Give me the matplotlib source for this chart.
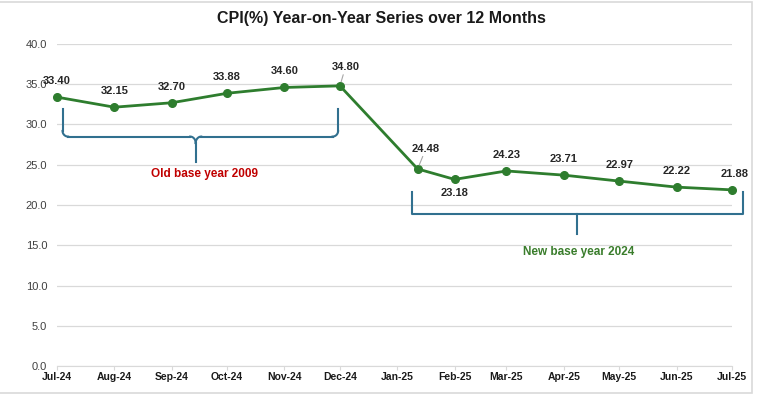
"""
CPI year-on-year line chart with base-year brackets
"""

import numpy as np
import pandas as pd
import matplotlib.pyplot as plt
import matplotlib.dates as mdates
from matplotlib.patches import Rectangle

plt.rcParams.update({
    'font.family': ['Liberation Sans', 'DejaVu Sans'],
    'font.size': 8,
})

# data
dates = ['2024-07-01', '2024-08-01', '2024-09-01', '2024-10-01', '2024-11-01', '2024-12-01',
         '2025-01-12', '2025-02-01', '2025-03-01', '2025-04-01', '2025-05-01', '2025-06-01',
         '2025-07-01']
cpi = [33.40, 32.15, 32.70, 33.88, 34.60, 34.80,
       24.48, 23.18, 24.23, 23.71, 22.97, 22.22, 21.88]
tick_months = pd.date_range('2024-07-01', '2025-07-01', freq='MS')

# label offsets in points (dx, dy), leader line flag
label_offsets = [(0, 8), (0, 8), (0, 8), (0, 8), (0, 8), (4, 10),
                 (6, 11), (0, -6.5), (0, 8), (0, 8), (0, 8), (0, 8), (2, 8)]
leader = [False] * 13
leader[5] = True
leader[6] = True

line_color = '#2E7D2E'
brace_color = '#31708F'

x = pd.to_datetime(dates)

fig = plt.figure(figsize=(7.68, 4.04), dpi=100)
ax = fig.add_axes([57 / 768, 38 / 404, 675 / 768, 322 / 404])

# outer chart border
fig.patches.append(Rectangle((-0.01, 11 / 404), 752 / 768 + 0.01, 391 / 404,
                             transform=fig.transFigure, fill=False,
                             edgecolor='#D9D9D9', linewidth=1.2))

ax.plot(x, cpi, color=line_color, linewidth=2, marker='o', markersize=5.5, zorder=3, clip_on=False)

for xi, yi, (dx, dy), ld in zip(x, cpi, label_offsets, leader):
    va = 'bottom' if dy > 0 else 'top'
    arrow = dict(arrowstyle='-', color='#A6A6A6', lw=0.8, shrinkA=0, shrinkB=3) if ld else None
    ax.annotate(f'{yi:.2f}', (xi, yi), xytext=(dx, dy), textcoords='offset points',
                ha='center', va=va, fontsize=8, fontweight='bold', color='#262626',
                arrowprops=arrow, zorder=4)

# axes formatting
ax.set_ylim(0, 40)
ax.set_yticks(np.arange(0, 41, 5))
ax.set_yticklabels([f'{v:.1f}' for v in np.arange(0, 41, 5)])
ax.set_xlim(tick_months[0], tick_months[-1])
ax.set_xticks(tick_months)
ax.xaxis.set_major_formatter(mdates.DateFormatter('%b-%y'))
ax.grid(axis='y', color='#D9D9D9', linewidth=0.9)
ax.set_axisbelow(True)
for side in ['left', 'right', 'top']:
    ax.spines[side].set_visible(False)
ax.spines['bottom'].set_color('#D9D9D9')
ax.tick_params(axis='y', length=0, labelsize=8, labelcolor='#404040', pad=7)
ax.tick_params(axis='x', length=3, color='#D9D9D9', labelsize=7.5, pad=1)
for lbl in ax.get_xticklabels():
    lbl.set_fontweight('bold')
    lbl.set_color('#1A1A1A')

fig.text(0.497, 0.953, 'CPI(%) Year-on-Year Series over 12 Months',
         ha='center', va='center', fontsize=11.5, fontweight='bold', color='#1A1A1A')

# old base year brace (curly)
x0 = mdates.date2num(pd.Timestamp('2024-07-04'))
x1 = mdates.date2num(pd.Timestamp('2024-11-30'))
xm = mdates.date2num(pd.Timestamp('2024-09-14'))
r = 3
t = np.linspace(0, np.pi / 2, 20)
brace = dict(color=brace_color, lw=1.5, clip_on=False)
ax.plot([x0, x0], [31.9, 29.2], **brace)
ax.plot([x1, x1], [31.9, 29.2], **brace)
ax.plot(x0 + r * (1 - np.cos(t)), 29.2 - 0.7 * np.sin(t), **brace)
ax.plot(x1 - r * (1 - np.cos(t)), 29.2 - 0.7 * np.sin(t), **brace)
ax.plot([x0 + r, xm - r], [28.5, 28.5], **brace)
ax.plot([xm + r, x1 - r], [28.5, 28.5], **brace)
ax.plot(xm - r + r * np.sin(t), 27.7 + 0.8 * np.cos(t), **brace)
ax.plot(xm + r - r * np.sin(t), 27.7 + 0.8 * np.cos(t), **brace)
ax.plot([xm, xm], [27.7, 25.3], **brace)
ax.text(mdates.date2num(pd.Timestamp('2024-09-19')), 23.9, 'Old base year 2009',
        ha='center', va='center', fontsize=8.5, fontweight='bold', color='#C00000')

# new base year bracket (square)
n0 = mdates.date2num(pd.Timestamp('2025-01-09'))
n1 = mdates.date2num(pd.Timestamp('2025-07-07'))
nm = mdates.date2num(pd.Timestamp('2025-04-08'))
ax.plot([n0, n0, n1, n1], [21.6, 18.9, 18.9, 21.6], **brace)
ax.plot([nm, nm], [18.9, 16.4], **brace)
ax.text(mdates.date2num(pd.Timestamp('2025-04-09')), 14.1, 'New base year 2024',
        ha='center', va='center', fontsize=8.5, fontweight='bold', color='#3A7D2C')

fig.savefig('out.png', dpi=100)
